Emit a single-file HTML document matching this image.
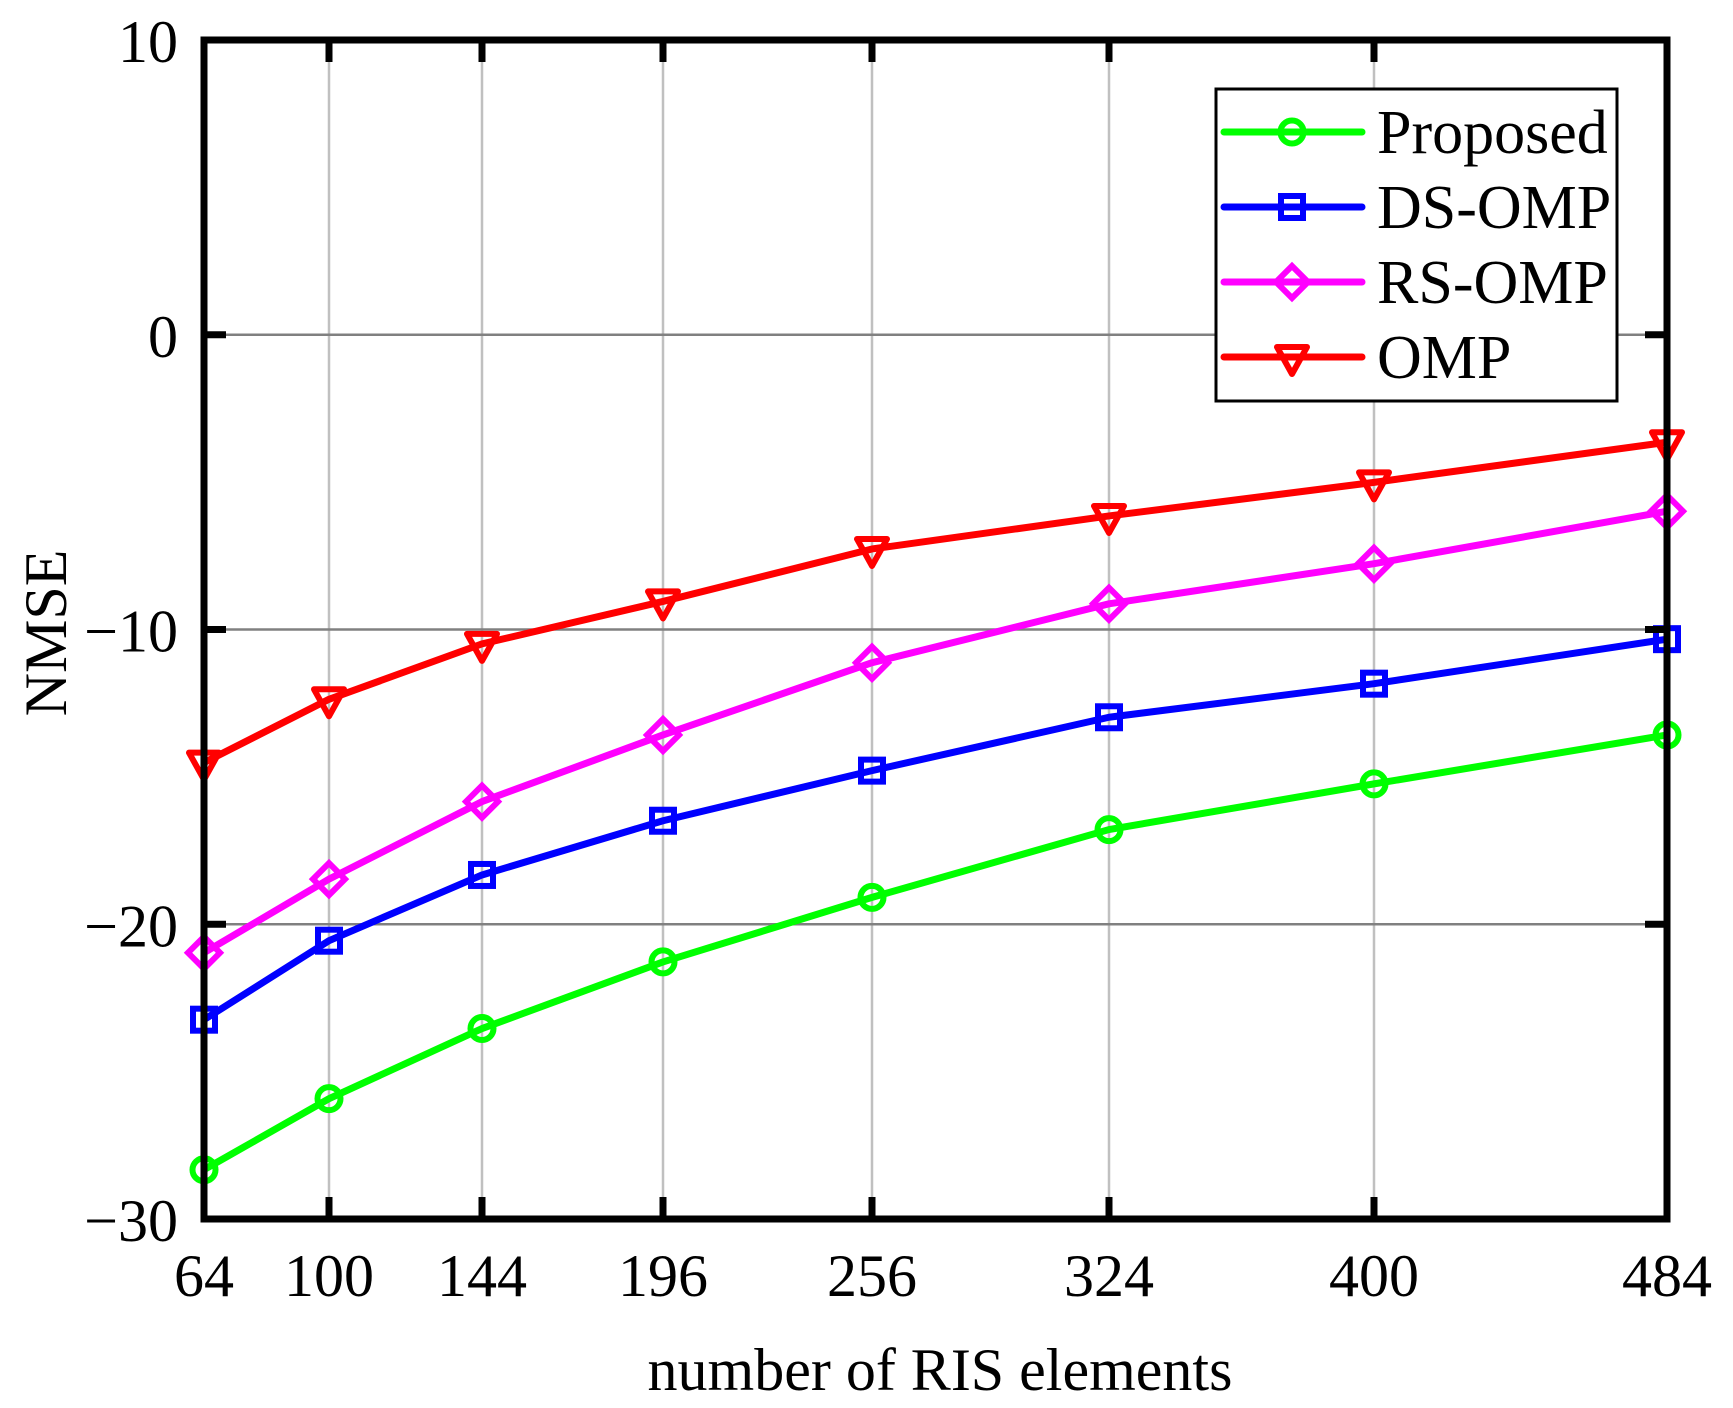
<!DOCTYPE html><html><head><meta charset="utf-8"><style>html,body{margin:0;padding:0;background:#fff}svg{display:block}</style></head><body>
<svg id="s" width="1733" height="1408" xmlns="http://www.w3.org/2000/svg" font-family="Liberation Serif, serif"></svg>
<script>
const X=[204,329,482,663,872,1109,1374,1667];
const L=204,R=1667,T=40,B=1219;
const Y=v=>T+(10-v)*(B-T)/40;
const data={
g:[-28.26,-25.85,-23.47,-21.21,-19.02,-16.72,-15.17,-13.51],
b:[-23.17,-20.49,-18.26,-16.42,-14.72,-12.91,-11.77,-10.26],
m:[-20.9,-18.4,-15.77,-13.51,-11.06,-9.06,-7.7,-5.92],
r:[-14.45,-12.3,-10.42,-8.98,-7.2,-6.08,-4.94,-3.58]};
const C={g:'#00ff00',b:'#0000ff',m:'#ff00ff',r:'#ff0000'};
let s='';
for(const x of X.slice(1,-1)) s+=`<line x1="${x}" y1="${T}" x2="${x}" y2="${B}" stroke="#c0c0c0" stroke-width="2.5"/>`;
for(const v of [0,-10,-20]) s+=`<line x1="${L}" y1="${Y(v)}" x2="${R}" y2="${Y(v)}" stroke="#808080" stroke-width="2.5"/>`;
function mk(k,x,y){const c=C[k];
 if(k=='g')return `<circle cx="${x}" cy="${y}" r="11.5" fill="none" stroke="${c}" stroke-width="6"/>`;
 if(k=='b')return `<rect x="${x-11}" y="${y-11}" width="22" height="22" fill="none" stroke="${c}" stroke-width="6"/>`;
 if(k=='m')return `<polygon points="${x},${y-16} ${x+16},${y} ${x},${y+16} ${x-16},${y}" fill="none" stroke="${c}" stroke-width="6"/>`;
 return `<polygon points="${x-15},${y-10} ${x+15},${y-10} ${x},${y+17}" fill="none" stroke="${c}" stroke-width="6" stroke-linejoin="round"/>`;}
for(const k of ['g','b','m','r']){
 const pts=X.map((x,i)=>[x,Y(data[k][i])+2]);
 s+=`<polyline points="${pts.map(p=>p.join(',')).join(' ')}" fill="none" stroke="${C[k]}" stroke-width="7" stroke-linejoin="round"/>`;
 for(const p of pts) s+=mk(k,p[0],p[1]);
}
for(const x of X.slice(1,-1)){s+=`<line x1="${x}" y1="${B}" x2="${x}" y2="${B-22}" stroke="#000" stroke-width="7"/><line x1="${x}" y1="${T}" x2="${x}" y2="${T+22}" stroke="#000" stroke-width="7"/>`;}
for(const v of [0,-10,-20]){const y=Y(v);s+=`<line x1="${L}" y1="${y}" x2="${L+22}" y2="${y}" stroke="#000" stroke-width="7"/><line x1="${R}" y1="${y}" x2="${R-22}" y2="${y}" stroke="#000" stroke-width="7"/>`;}
s+=`<rect x="${L}" y="${T}" width="${R-L}" height="${B-T}" fill="none" stroke="#000" stroke-width="7"/>`;
const yl={10:'10',0:'0','-10':'\u221210','-20':'\u221220','-30':'\u221230'};
for(const v of [10,0,-10,-20,-30]) s+=`<text x="178" y="${Y(v)+22}" font-size="60" text-anchor="end">${yl[v]}</text>`;
const xl=[64,100,144,196,256,324,400,484];
X.forEach((x,i)=>s+=`<text x="${x}" y="1296" font-size="60" text-anchor="middle">${xl[i]}</text>`);
s+=`<text x="940" y="1390" font-size="60" text-anchor="middle">number of RIS elements</text>`;
s+=`<text transform="translate(66,633) rotate(-90)" font-size="60" text-anchor="middle">NMSE</text>`;
s+=`<rect x="1216" y="89" width="401" height="312" fill="#fff" stroke="#000" stroke-width="3"/>`;
const names={g:'Proposed',b:'DS-OMP',m:'RS-OMP',r:'OMP'};
['g','b','m','r'].forEach((k,i)=>{const y=132+i*75;
 s+=`<line x1="1224" y1="${y}" x2="1362" y2="${y}" stroke="${C[k]}" stroke-width="7" stroke-linecap="round"/>`+mk(k,1292,y);
 s+=`<text x="1377" y="${y+21}" font-size="62">${names[k]}</text>`;});
document.getElementById('s').innerHTML=s;
</script>
</body></html>
